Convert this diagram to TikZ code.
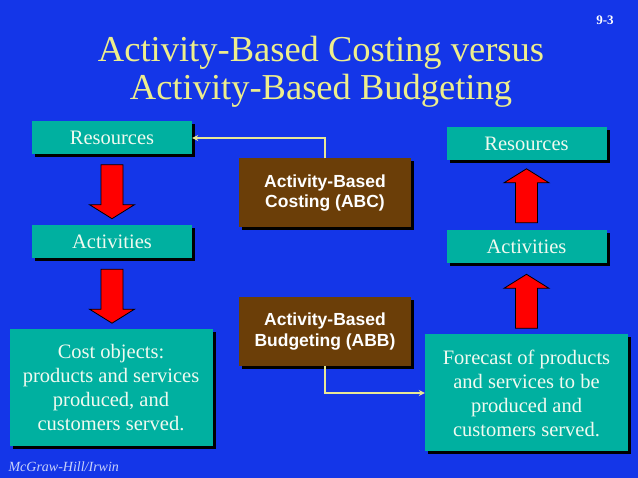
\documentclass[tikz,border=0pt]{standalone}
\usepackage{fontspec}
\setmainfont{Liberation Serif}
\newfontfamily\arialfont{Liberation Sans}
\usetikzlibrary{shadows,arrows.meta}

\definecolor{slideblue}{RGB}{20,54,232}
\definecolor{boxteal}{RGB}{0,176,160}
\definecolor{boxbrown}{RGB}{107,62,8}
\definecolor{titleyellow}{RGB}{238,238,140}
\definecolor{linkyellow}{RGB}{232,232,150}
\definecolor{boxtext}{RGB}{240,250,240}
\definecolor{footblue}{RGB}{200,210,250}

\tikzset{fat arrow/.pic={
    \filldraw[fill=red, draw=black, line width=0.8pt]
        (-11,0) -- (-11,40) -- (-22.5,40) -- (0,54) -- (22.5,40) -- (11,40) -- (11,0) -- cycle;
}}

\begin{document}
\begin{tikzpicture}[x=1pt, y=1pt]
    \tikzstyle{shadowed}=[drop shadow={shadow xshift=3pt, shadow yshift=-3pt, fill=black, opacity=1}]
    \tikzstyle{box}=[shadowed, fill=boxteal, text=boxtext, inner sep=0pt, align=center,
        font=\fontsize{20.5}{24}\selectfont, minimum width=160pt, minimum height=33pt]
    \tikzstyle{big box}=[box, minimum width=203pt, minimum height=117pt]
    \tikzstyle{method}=[shadowed, fill=boxbrown, text=white, inner sep=0pt, align=center,
        font=\arialfont\bfseries\fontsize{17.5}{20.5}\selectfont, minimum width=172pt, minimum height=69pt]
    \tikzstyle{link}=[draw=linkyellow, line width=1.5pt, -{Stealth[length=6pt, width=6pt]}]

    \fill[slideblue] (0,0) rectangle (638,478);
    \useasboundingbox (0,0) rectangle (638,478);

    \node[text=titleyellow, align=center, font=\fontsize{36.5}{38}\selectfont] (title) at (321,406)
        {Activity-Based Costing versus\\Activity-Based Budgeting};
    \node[text=white, font=\bfseries\fontsize{13}{15}\selectfont] (page) at (605,458) {9-3};
    \node[text=footblue, font=\itshape\fontsize{14}{16}\selectfont, anchor=base west] (foot) at (5,6) {McGraw-Hill/Irwin};

    % costing side
    \node[box] (ABC-res) at (112,340) {Resources};
    \node[box] (ABC-act) at (112,236.5) {Activities};
    \node[big box] (ABC-obj) at (111,90.5) {Cost objects:\\products and services\\produced, and\\customers served.};

    % budgeting side
    \node[box] (ABB-res) at (526.5,334.5) {Resources};
    \node[box] (ABB-act) at (526.5,231.5) {Activities};
    \node[big box] (ABB-obj) at (526.5,85) {Forecast of products\\and services to be\\produced and\\customers served.};

    \node[method] (abc) at (325,285) {Activity-Based\\Costing (ABC)};
    \node[method] (abb) at (325,146.5) {Activity-Based\\Budgeting (ABB)};

    \pic[rotate=180] at ([yshift=-10pt]ABC-res.south) {fat arrow};
    \pic[rotate=180] at ([yshift=-11pt]ABC-act.south) {fat arrow};
    \pic at ([yshift=7pt]ABB-act.north) {fat arrow};
    \pic at ([yshift=6pt]ABB-obj.north) {fat arrow};

    \draw[link] (abc.north) |- (ABC-res.east);
    \draw[link] (abb.south) |- (ABB-obj.west);
\end{tikzpicture}
\end{document}
